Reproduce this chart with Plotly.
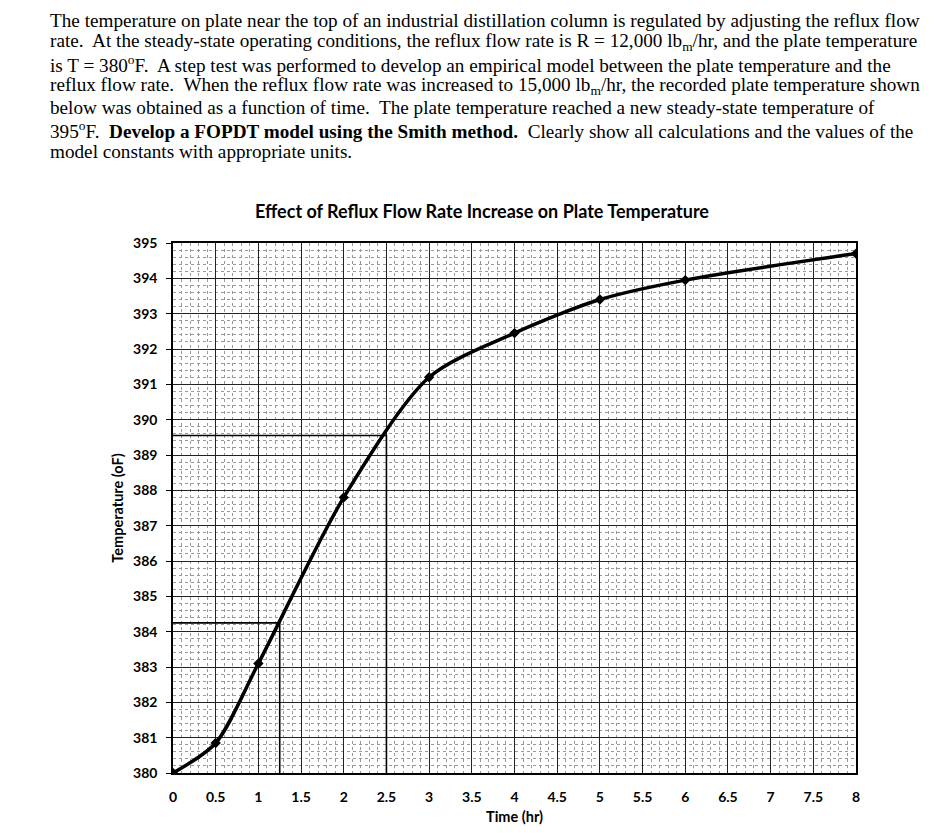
import plotly.graph_objects as go

# Data
time_hr = [0, 0.5, 1, 2, 3, 4, 5, 6, 8]
temp_F = [380.0, 380.85, 383.1, 387.8, 391.2, 392.45, 393.4, 393.95, 394.7]

# Smith-method construction lines (28.3% and 63.2% of response)
t28 = 1.25
T28 = 384.25
t63 = 2.5
T63 = 389.55

x_ticks = [0, 0.5, 1, 1.5, 2, 2.5, 3, 3.5, 4, 4.5, 5, 5.5, 6, 6.5, 7, 7.5, 8]
x_tick_labels = ["0", "0.5", "1", "1.5", "2", "2.5", "3", "3.5", "4", "4.5",
                 "5", "5.5", "6", "6.5", "7", "7.5", "8"]
y_ticks = list(range(380, 396))

problem_lines = [
    "The temperature on plate near the top of an industrial distillation column is regulated by adjusting the reflux flow",
    "rate.  At the steady-state operating conditions, the reflux flow rate is R = 12,000 lb<sub>m</sub>/hr, and the plate temperature",
    "is T = 380<sup>o</sup>F.  A step test was performed to develop an empirical model between the plate temperature and the",
    "reflux flow rate.  When the reflux flow rate was increased to 15,000 lb<sub>m</sub>/hr, the recorded plate temperature shown",
    "below was obtained as a function of time.  The plate temperature reached a new steady-state temperature of",
    "395<sup>o</sup>F.  <b>Develop a FOPDT model using the Smith method.</b>  Clearly show all calculations and the values of the",
    "model constants with appropriate units.",
]

fig = go.Figure()

# construction lines
fig.add_trace(go.Scatter(x=[0, t28, t28], y=[T28, T28, 380], mode="lines",
                         line=dict(color="black", width=1.6), showlegend=False, hoverinfo="skip"))
fig.add_trace(go.Scatter(x=[0, t63, t63], y=[T63, T63, 380], mode="lines",
                         line=dict(color="black", width=1.6), showlegend=False, hoverinfo="skip"))

# response curve
fig.add_trace(go.Scatter(x=time_hr, y=temp_F, mode="lines+markers",
                         line=dict(color="black", width=3.5, shape="spline", smoothing=0.8),
                         marker=dict(symbol="diamond", size=8, color="black"),
                         showlegend=False))

axis_font = dict(family="Lato", size=14, color="black", weight="bold")

fig.update_layout(
    width=938, height=833,
    margin=dict(l=173, r=82, t=243, b=60),
    paper_bgcolor="white", plot_bgcolor="white",
    title=dict(text="<b>Effect of Reflux Flow Rate Increase on Plate Temperature</b>",
               x=482 / 938, xanchor="center", y=1 - 212 / 833, yanchor="middle",
               font=dict(family="Lato", size=18, color="black")),
    xaxis=dict(range=[0, 8], tickvals=x_ticks, ticktext=x_tick_labels,
               tickfont=axis_font, showgrid=True, gridcolor="#222", gridwidth=1.3,
               minor=dict(dtick=0.1, showgrid=True, gridcolor="#999", griddash="dot", gridwidth=1),
               showline=True, linecolor="black", linewidth=1.5, mirror=True,
               zeroline=False, ticks="", ticklabelstandoff=10, automargin=False,
               title=dict(text="<b>Time (hr)</b>", font=dict(family="Lato", size=14.5, color="black"),
                          standoff=8)),
    yaxis=dict(range=[380, 395], tickvals=y_ticks, tickfont=axis_font,
               showgrid=True, gridcolor="#222", gridwidth=1.3,
               minor=dict(dtick=0.2, showgrid=True, gridcolor="#999", griddash="dot", gridwidth=1),
               showline=True, linecolor="black", linewidth=1.5, mirror=True,
               zeroline=False, ticks="outside", ticklen=5, tickcolor="black",
               ticklabelstandoff=6, automargin=False,
               title=dict(text="<b>Temperature (oF)</b>", font=dict(family="Lato", size=14.5, color="black"),
                          standoff=6)),
)

line_y0 = 20
line_dy = 22
for i, txt in enumerate(problem_lines):
    fig.add_annotation(text=txt, xref="paper", yref="paper",
                       x=(48 - 173) / (938 - 173 - 82),
                       y=1 + (243 - (line_y0 + i * line_dy)) / (833 - 243 - 60),
                       xanchor="left", yanchor="middle", showarrow=False, align="left",
                       font=dict(family="Liberation Serif", size=19.2, color="black"))

fig.write_html("out.html")
